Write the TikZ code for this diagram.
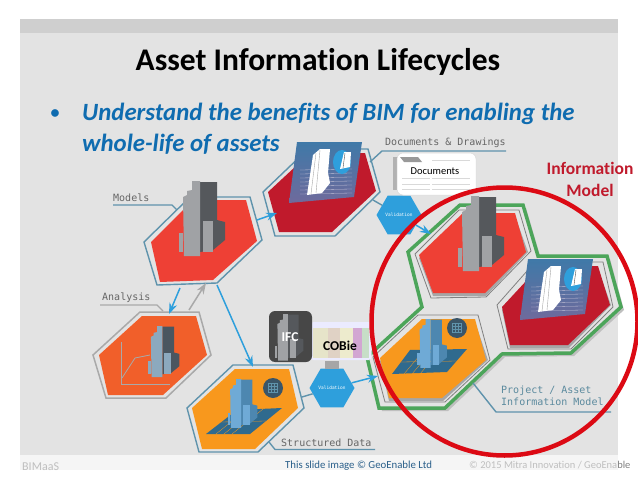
\documentclass[tikz,border=0pt]{standalone}
\usepackage{xcolor}
\usepackage{fontspec}
\setmainfont[Ligatures=NoCommon]{Carlito}
\setmonofont{DejaVu Sans Mono}
\usetikzlibrary{positioning, shapes}
\usetikzlibrary{arrows.meta}

\definecolor{panelgray}{HTML}{E3E3E3}
\definecolor{bandgray}{HTML}{CFCFCF}
\definecolor{stripgray}{HTML}{F5F5F5}
\definecolor{bimblue}{HTML}{0F6CB0}
\definecolor{linkblue}{HTML}{2E9FDC}
\definecolor{rimblue}{HTML}{5F93AC}
\definecolor{rimgray}{HTML}{A9A9A9}
\definecolor{modelred}{HTML}{EE4035}
\definecolor{docred}{HTML}{C01A2C}
\definecolor{analysisred}{HTML}{F15F2A}
\definecolor{dataorange}{HTML}{F8981D}
\definecolor{pimgreen}{HTML}{4CA55A}
\definecolor{ringred}{HTML}{DC0A14}
\definecolor{labelgray}{HTML}{666666}
\definecolor{labelteal}{HTML}{5B8A9E}
\definecolor{creditblue}{HTML}{2A5F8A}
\definecolor{towerlight}{HTML}{A0A2A5}
\definecolor{towerdark}{HTML}{55585C}
\definecolor{chartlight}{HTML}{8CA9BE}
\definecolor{chartdark}{HTML}{4A5660}
\definecolor{datalight}{HTML}{6FAAD6}
\definecolor{datadark}{HTML}{4D87B0}
\definecolor{griddark}{HTML}{2F6A8E}
\definecolor{discdark}{HTML}{3A5568}
\definecolor{sheettop}{HTML}{3F79A8}
\definecolor{sheetbottom}{HTML}{6F6A9C}

\tikzset{
	rim/.style={draw=rimblue, line width=1.4pt},
	greyrim/.style={draw=rimgray, line width=1.5pt},
	innerrim/.style={draw=gray, line width=0.8pt},
	monolabel/.style={font=\ttfamily\fontsize{10}{11.5}\selectfont, text=labelgray, inner sep=0pt},
	leader/.style={draw=rimblue, line width=1.4pt},
	link/.style={->, draw=linkblue, line width=1.5pt},
	validhex/.style={regular polygon, regular polygon sides=6, minimum size=45pt, inner sep=0pt, fill=linkblue, text=white, font=\ttfamily\fontsize{4.5}{5}\selectfont}
}

% tower: x, y, scale, light colour, dark colour
\newcommand{\tower}[5]{
	\begin{scope}[shift={(#1,#2)},scale=#3]
		\fill[#5] (8,1) -- (25,1) -- (25,39) -- (33,41) -- (33,59) -- (21,69) -- (8,71) -- cycle;
		\fill[#4] (0,0) -- (8,0) -- (8,75) -- (-8,75) -- (-9,16) -- (-5,14) -- (-5,10) -- (0,9) -- cycle;
		\fill[#4] (11,40) -- (21,40) -- (21,71) -- (11,71) -- cycle;
		\fill[#4] (-13,52) -- (-9,52) -- (-9,71) -- (-13,71) -- cycle;
	\end{scope}
}
% blue sheet with the white building: dx, dy
\newcommand{\sheet}[2]{
	\begin{scope}[shift={(#1,#2)}]
		\shade[top color=sheettop, bottom color=sheetbottom] (297,142) -- (362,142) -- (354,197) -- (289,203) -- cycle;
		\foreach \yy in {170,174,...,194}
			\draw[white!60!sheetbottom, line width=0.3pt] (300,\yy) -- (352,\yy-1);
		\fill[white] (320,149) -- (330,149) -- (328,173) -- (330,183) -- (322,193) -- (307,195) -- (313,155) -- cycle;
		\draw[gray!70, line width=0.4pt] (316,153) -- (311,194);
		\draw[gray!70, line width=0.4pt] (320,150) -- (316,193);
		\fill[linkblue] (342,162) ellipse [x radius=9, y radius=12];
		\fill[white] (344,152) -- (351,152) -- (350,167) -- (340,169) -- cycle;
		\draw[black!70, line width=0.4pt] (345,153) -- (343,168);
	\end{scope}
}
% dark grid disc: x, y
\newcommand{\griddisc}[2]{
	\fill[discdark] (#1,#2) circle [radius=10];
	\foreach \dd in {-5,-2,1,4} {
		\draw[rimblue, line width=0.3pt] (#1-5,#2+\dd) -- (#1+5,#2+\dd);
		\draw[rimblue, line width=0.3pt] (#1+\dd,#2-5) -- (#1+\dd,#2+5);
	}
}

\begin{document}
\begin{tikzpicture}[x=1pt,y=-1pt,>={Stealth[length=11pt,width=8pt]}]
	\useasboundingbox (0,0) rectangle (638,479);

	% backdrop
	\fill[white] (0,0) rectangle (638,479);
	\fill[panelgray] (20,19) rectangle (617.5,455);
	\fill[bandgray] (20,19) rectangle (617.5,33);
	\fill[stripgray] (20,455) rectangle (617.5,470);

	% end points of the connectors
	\coordinate (modelsE) at (257,220);
	\coordinate (docsW) at (277,213);
	\coordinate (modelsA) at (180,288);
	\coordinate (analysisN) at (169,314);
	\coordinate (analysisE) at (189,310);
	\coordinate (modelsS) at (206,283);
	\coordinate (modelsD) at (217,285);
	\coordinate (dataN) at (253,367);
	\coordinate (docsE) at (373,200);
	\coordinate (dataE) at (302,397);
	\coordinate (pimW) at (431,234);
	\coordinate (pimS) at (378,376);

	% hexagons on the left
	\draw[rim] (144,242) -- (190,197) -- (250,197) -- (262,240) -- (217,283) -- (157,285) -- cycle;
	\fill[modelred] (151,242) -- (193,200) -- (246,200) -- (257,241) -- (213,280) -- (160,282) -- cycle;
	\draw[rim] (263,192) -- (308,149) -- (368,149) -- (380,192) -- (335,236) -- (275,236) -- cycle;
	\fill[docred] (268,192) -- (310,153) -- (365,153) -- (376,191) -- (332,232) -- (279,232) -- cycle;
	\draw[greyrim] (93,355) -- (140,312) -- (199,312) -- (211,355) -- (166,398) -- (106,398) -- cycle;
	\fill[analysisred] (99,355) -- (142,316) -- (196,316) -- (207,355) -- (163,395) -- (108,395) -- cycle;
	\draw[rim] (187,408) -- (233,365) -- (293,365) -- (304,408) -- (258,452) -- (199,452) -- cycle;
	\fill[dataorange] (192,408) -- (235,369) -- (289,369) -- (298,408) -- (255,449) -- (202,449) -- cycle;

	% chart in the analysis hexagon
	\draw[rimgray, line width=1pt] (121,342) -- (121,384) -- (170,384);
	\draw[rimgray, line width=0.8pt] (122,378) -- (135,358) -- (150,355);
	\tower{157}{326}{0.68}{chartlight}{chartdark}

	% grid and tower in the data hexagon
	\fill[griddark] (206,434) -- (237,410) -- (282,408) -- (250,434) -- cycle;
	\foreach \dd in {0,8,16}
		\draw[dataorange, line width=0.3pt] (216+\dd,434) -- (247+\dd,409);
	\draw[dataorange, line width=0.3pt] (221,422) -- (266,421);
	\tower{236}{379}{0.65}{datalight}{datadark}
	\griddisc{273}{388}

	\tower{192}{181}{1}{towerlight}{towerdark}
	\sheet{0}{0}

	% project / asset information model
	\fill[black!25] (411,255) -- (463,208) -- (526,208) -- (541,259) -- (610,259) -- (624,310) -- (574,356) -- (505,357) -- (448,411) -- (382,411) -- (370,360) -- (425,310) -- cycle;
	\fill[panelgray] (408,252) -- (460,205) -- (523,205) -- (538,256) -- (607,256) -- (621,307) -- (571,353) -- (502,354) -- (445,408) -- (379,408) -- (367,357) -- (422,307) -- cycle;
	\draw[pimgreen, line width=3.5pt] (408,252) -- (460,205) -- (523,205) -- (538,256) -- (607,256) -- (621,307) -- (571,353) -- (502,354) -- (445,408) -- (379,408) -- (367,357) -- (422,307) -- cycle;
	\draw[innerrim] (415,254) -- (459,210) -- (519,210) -- (531,251) -- (486,297) -- (431,298) -- cycle;
	\fill[gray!70] (419,258) -- (463,216) -- (515,216) -- (528,252) -- (486,296) -- (433,296) -- cycle;
	\fill[modelred] (419,255) -- (463,213) -- (515,213) -- (526,252) -- (485,293) -- (433,293) -- cycle;
	\draw[innerrim] (497,305) -- (535,262) -- (603,262) -- (613,307) -- (571,349) -- (508,349) -- cycle;
	\fill[gray!70] (502,310) -- (540,269) -- (598,269) -- (611,305) -- (569,348) -- (510,348) -- cycle;
	\fill[docred] (502,307) -- (540,266) -- (598,266) -- (610,305) -- (568,345) -- (510,345) -- cycle;
	\draw[innerrim] (373,357) -- (418,315) -- (478,315) -- (490,360) -- (445,402) -- (385,402) -- cycle;
	\fill[gray!70] (380,361) -- (422,322) -- (475,322) -- (488,360) -- (443,401) -- (389,401) -- cycle;
	\fill[dataorange] (380,358) -- (422,319) -- (475,319) -- (486,360) -- (442,398) -- (389,398) -- cycle;
	\tower{471}{196}{1}{towerlight}{towerdark}
	\sheet{231}{117}
	\fill[griddark] (392,374) -- (410,350) -- (467,349) -- (447,372) -- cycle;
	\foreach \dd in {0,8,16}
		\draw[dataorange, line width=0.3pt] (404+\dd,374) -- (425+\dd,349);
	\draw[dataorange, line width=0.3pt] (401,362) -- (457,361);
	\tower{425.5}{319}{0.65}{datalight}{datadark}
	\griddisc{457}{328}

	% validation steps and source cards
	\node[validhex] (valid1) at (399,215) {Validation};
	\node[validhex] (valid2) at (332,388) {Validation};
	\fill[gray!70] (325,361) rectangle (339,369);

	\fill[gray!60] (393,157) rectangle (400,190);
	\node[rectangle, rounded corners=6pt, fill=white, draw=gray!30, line width=0.5pt, minimum width=79pt, minimum height=42pt, inner sep=0pt] (doccard) at (436.5,174) {};
	\fill[gray!80] (400,157) -- (418,157) -- (422,162) -- (404,162) -- cycle;
	\foreach \yy in {160,178,184,189}
		\draw[gray!30, line width=0.5pt] (432,\yy) -- (470,\yy);
	\foreach \yy in {178,184,189}
		\draw[gray!30, line width=0.5pt] (402,\yy) -- (430,\yy);
	\node[font=\fontsize{10.5}{12}\selectfont, text=black, inner sep=0pt] (doctext) at (435,171) {Documents};

	\node[rectangle, rounded corners=3pt, fill=blue!8!white, minimum width=61pt, minimum height=38pt, inner sep=0pt] (cobiecard) at (341,341) {};
	\fill[yellow!35!gray!35] (313,328) rectangle (328,358);
	\fill[orange!30!gray!35] (328,328) rectangle (340,358);
	\fill[yellow!45!gray!30] (340,328) rectangle (353,358);
	\fill[violet!35] (353,328) rectangle (362,358);
	\fill[green!25!gray!35] (362,328) rectangle (369,358);
	\node[font=\bfseries\fontsize{13.5}{15}\selectfont, text=black, inner sep=0pt] (cobietext) at (340,346) {COBie};
	\node[rectangle, rounded corners=6pt, fill=black!72, minimum width=43pt, minimum height=51pt, inner sep=0pt] (ifccard) at (290.5,336.5) {};
	\tower{283}{314}{0.62}{towerlight}{towerdark}
	\node[font=\bfseries\fontsize{13.5}{15}\selectfont, text=white, inner sep=0pt] (ifctext) at (290,337) {IFC};

	% connectors
	\draw[link] (modelsE) -- (docsW);
	\draw[link] (modelsA) -- (analysisN);
	\draw[link, draw=rimgray] (analysisE) -- (modelsS);
	\draw[link] (modelsD) -- (dataN);
	\draw[rim] (docsE) -- (valid1);
	\draw[link] (valid1) -- (pimW);
	\draw[rim] (dataE) -- (valid2);
	\draw[link] (valid2) -- (pimS);

	% labels with their leaders
	\node[monolabel, anchor=west] (modelslabel) at (113,198) {Models};
	\draw[leader] (113,205) -- (172,205) -- (177,210);
	\node[monolabel, anchor=west] (analysislabel) at (102,298) {Analysis};
	\draw[leader, draw=rimgray] (100,305) -- (157,305) -- (163,311);
	\node[monolabel, anchor=west] (datalabel) at (281,443) {Structured Data};
	\draw[leader] (375,449.5) -- (275,449.5) -- (269,442);
	\node[monolabel, anchor=west] (docslabel) at (385,143) {Documents \& Drawings};
	\draw[leader] (506,151) -- (382,151) -- (370,162);
	\node[monolabel, anchor=west, align=left, text=labelteal] (pimlabel) at (501,396) {Project / Asset\\Information Model};
	\draw[leader] (611,412) -- (496,412) -- (473,383);

	% ring and slide text
	\draw[ringred, line width=4.5pt] (504.5,321.5) ellipse [x radius=133, y radius=134];
	\node[font=\bfseries\fontsize{17.5}{22}\selectfont, text=docred, align=center, inner sep=0pt] (ringlabel) at (590,179) {Information\\Model};

	\node[font=\bfseries\fontsize{31.5}{34}\selectfont, text=black, inner sep=0pt] (title) at (318,62) {Asset Information Lifecycles};
	\node[font=\bfseries\itshape\fontsize{24.8}{30}\selectfont, text=bimblue, anchor=west, inner sep=0pt] (point) at (82,114) {Understand the benefits of BIM for enabling the};
	\node[font=\bfseries\itshape\fontsize{24.8}{30}\selectfont, text=bimblue, anchor=west, inner sep=0pt] (point2) at (82,144) {whole-life of assets};
	\node[font=\bfseries\fontsize{18}{20}\selectfont, text=bimblue, inner sep=0pt] (bullet) at (55,114) {•};

	\node[font=\fontsize{10.8}{12}\selectfont, text=creditblue, anchor=west, inner sep=0pt] (credit) at (285,466) {This slide image © GeoEnable Ltd};
	\node[font=\fontsize{10.5}{12}\selectfont, text=gray!50, anchor=west, inner sep=0pt] (copyright) at (469,465) {© 2015 Mitra Innovation / GeoEna\textcolor{gray}{ble}};
	\node[font=\fontsize{12}{13}\selectfont, text=gray!50, anchor=west, inner sep=0pt] (logo) at (22,466.5) {BIMaaS};
\end{tikzpicture}
\end{document}
